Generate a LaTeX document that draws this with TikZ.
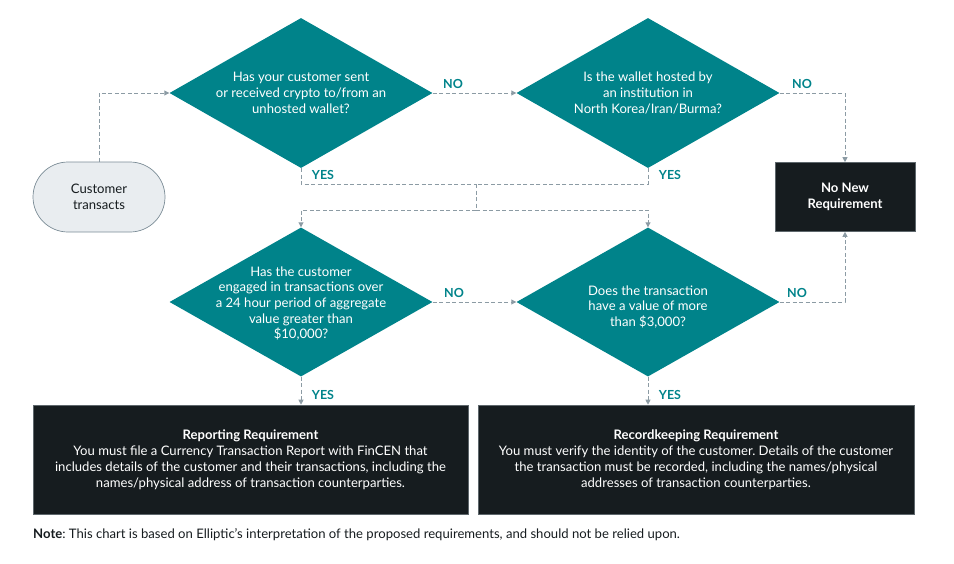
\documentclass[tikz,border=0pt]{standalone}
\usepackage{fontspec}
\setmainfont{Lato}
\frenchspacing
\usetikzlibrary{shapes.geometric,arrows.meta}
\definecolor{tealc}{HTML}{00838A}
\definecolor{darkc}{HTML}{161C1F}
\definecolor{darkline}{HTML}{5E676C}
\definecolor{startfill}{HTML}{E9EDF0}
\definecolor{startline}{HTML}{7B8C96}
\definecolor{connc}{HTML}{8C9BA4}
\begin{document}
\begin{tikzpicture}[x=1pt,y=-1pt,
  decision/.style={diamond, fill=tealc, minimum width=263pt, minimum height=150pt, inner sep=0pt},
  dtext/.style={text=white, align=center, font=\fontsize{13.1}{15.7}\selectfont, inner sep=0pt},
  resultbox/.style={fill=darkc, draw=darkline, line width=0.6pt, text=white, align=center, font=\fontsize{13.1}{16}\selectfont},
  startbox/.style={fill=startfill, draw=startline, line width=0.7pt, rounded corners=35pt, minimum width=132pt, minimum height=70pt, align=center, font=\fontsize{13.1}{16}\selectfont, text=darkc},
  conn/.style={draw=connc, line width=0.9pt, dash pattern=on 4pt off 2.5pt},
  arr/.style={conn, -{Triangle[length=5pt,width=5pt]}},
  lab/.style={text=tealc, font=\bfseries\fontsize{12.5}{14}\selectfont, inner sep=0pt}
]
\useasboundingbox (0,0) rectangle (954,563);

% decisions
\node[decision] (d1) at (301,93) {};
\node[dtext] (t1) at (301,93) {Has your customer sent\\or received crypto to/from an\\unhosted wallet?};
\node[decision] (d2) at (648,93) {};
\node[dtext] (t2) at (648,93) {Is the wallet hosted by\\an institution in\\North Korea/Iran/Burma?};
\node[decision, minimum height=149pt] (d3) at (301,302) {};
\node[dtext] (t3) at (301,303.5) {Has the customer\\engaged in transactions over\\a 24 hour period of aggregate\\value greater than\\\$10,000?};
\node[decision, minimum height=149pt] (d4) at (648,302) {};
\node[dtext] (t4) at (648,307) {Does the transaction\\have a value of more\\than \$3,000?};

% start / results
\node[startbox] (start) at (99,197) {Customer\\transacts};
\node[resultbox, minimum width=140pt, minimum height=69pt, font=\bfseries\fontsize{13.1}{16}\selectfont] (nonew) at (845,197) {No New\\Requirement};
\node[resultbox, minimum width=435pt, minimum height=109pt] (rep) at (250.5,459.5) {\textbf{Reporting Requirement}\\You must file a Currency Transaction Report with FinCEN that\\includes details of the customer and their transactions, including the\\names/physical address of transaction counterparties.};
\node[resultbox, minimum width=436pt, minimum height=109pt] (rec) at (696,459.5) {\textbf{Recordkeeping Requirement}\\You must verify the identity of the customer. Details of the customer\\the transaction must be recorded, including the names/physical\\addresses of transaction counterparties.};

% note
\node[anchor=west, inner sep=0pt, font=\fontsize{13.1}{15}\selectfont, text=darkc] (note) at (33,535) {\textbf{Note}: This chart is based on Elliptic’s interpretation of the proposed requirements, and should not be relied upon.};

% connectors
\coordinate (m1) at (476,184);
\coordinate (m2) at (476,210);
\draw[arr] (start.north) |- (d1.west);
\draw[arr] (d1.east) -- (d2.west);
\draw[arr] (d2.east) -| (nonew.north);
\draw[conn] (d1.south) |- (m1);
\draw[conn] (d2.south) |- (m1);
\draw[conn] (m1) -- (m2);
\draw[arr] (m2) -| (d3.north);
\draw[arr] (m2) -| (d4.north);
\draw[arr] (d3.east) -- (d4.west);
\draw[arr] (d4.east) -| (nonew.south);
\draw[arr] (d3.south) -- (d3.south |- rep.north);
\draw[arr] (d4.south) -- (d4.south |- rec.north);

% labels
\node[lab] (no1) at (453,84) {NO};
\node[lab] (no2) at (802,84) {NO};
\node[lab] (no3) at (454,293) {NO};
\node[lab] (no4) at (797,293) {NO};
\node[lab] (yes1) at (323,175) {YES};
\node[lab] (yes2) at (670,175) {YES};
\node[lab] (yes3) at (323,395) {YES};
\node[lab] (yes4) at (670,395) {YES};
\end{tikzpicture}
\end{document}
